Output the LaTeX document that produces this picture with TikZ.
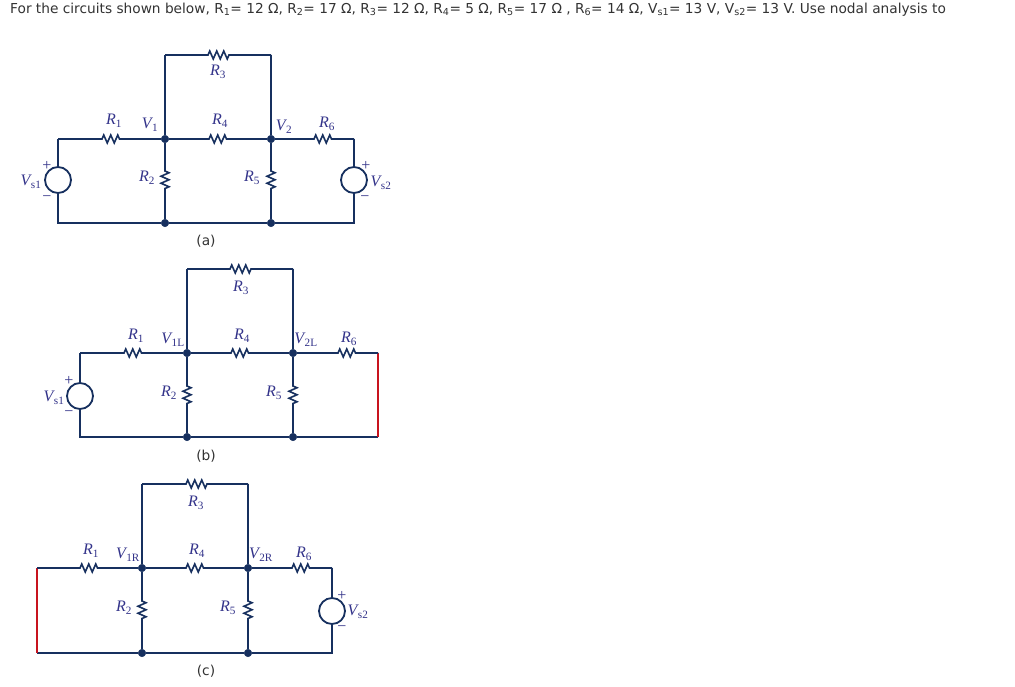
\documentclass[tikz,border=0pt]{standalone}
\usepackage{fontspec}
\setmainfont{Liberation Serif}
\newfontfamily\webfont{DejaVu Sans}
\usetikzlibrary{decorations.pathmorphing}
\definecolor{wirecol}{HTML}{17305F}
\definecolor{labcol}{HTML}{33338A}
\definecolor{webcol}{HTML}{333333}
\definecolor{shortcol}{HTML}{C8141E}
\tikzset{
  wire/.style={draw=wirecol, line width=1.5pt},
  shortwire/.style={draw=shortcol, line width=1.5pt},
  reswire/.style 2 args={decorate, decoration={zigzag, segment length=7pt, amplitude=4pt, pre length=#1, post length=#2}, draw=wirecol, line width=1.6pt},
  junc/.style={circle, fill=wirecol, draw=wirecol, line width=0.5pt, inner sep=0pt, minimum size=7.5pt},
  source/.style={circle, draw=wirecol, line width=1.8pt, inner sep=0pt, minimum size=26pt},
  lab/.style={text=labcol, font=\fontsize{16}{16}\selectfont, inner sep=0pt},
  sgn/.style={text=labcol, font=\fontsize{16}{16}\selectfont, inner sep=0pt},
  capt/.style={text=webcol, font=\webfont\fontsize{13.72}{14}\selectfont, inner sep=0pt}
}
\newcommand{\nm}[2]{\textit{#1}\textsubscript{#2}}
\newcommand{\nv}[1]{\textit{V}\kern-0.06em\textsubscript{#1}}
\newcommand{\wsub}[1]{\textsubscript{#1}}
\begin{document}
\begin{tikzpicture}[x=1pt, y=-1pt]
  \useasboundingbox (0,0) rectangle (1015,686);
  \fill[white] (0,0) rectangle (1015,686);
  \node[capt, anchor=west] (title) at (10,10) {For the circuits shown below, R\wsub{1}= 12 Ω, R\wsub{2}= 17 Ω, R\wsub{3}= 12 Ω, R\wsub{4}= 5 Ω, R\wsub{5}= 17 Ω , R\wsub{6}= 14 Ω, V\wsub{s1}= 13 V, V\wsub{s2}= 13 V. Use nodal analysis to};

  % circuit (a)
  \coordinate (aTL) at (58,139);
  \coordinate (aBL) at (58,223);
  \coordinate (aTR) at (354,139);
  \coordinate (aBR) at (354,223);
  \coordinate (aT1) at (165,55);
  \coordinate (aT2) at (271,55);
  \node[junc] (a1) at (165,139) {};
  \node[junc] (a2) at (271,139) {};
  \node[junc] (a3) at (165,223) {};
  \node[junc] (a4) at (271,223) {};
  \node[source] (aVs1) at (58,180) {};
  \node[source] (aVs2) at (354,180) {};
  \draw[wire] (aVs1) -- (aTL);
  \draw[wire] (aTR) -- (aVs2) -- (aBR) -- (a4) -- (a3) -- (aBL) -- (aVs1);
  \draw[wire] (a1) -- (aT1);
  \draw[wire] (aT2) -- (a2);
  \draw[reswire={44pt}{39pt}] (aTL) -- (a1);
  \draw[reswire={40pt}{39pt}] (a1) -- (a2);
  \draw[reswire={43pt}{42pt}] (aT1) -- (aT2);
  \draw[reswire={39pt}{20pt}] (a2) -- (aTR);
  \draw[reswire={28pt}{29pt}] (a1) -- (a3);
  \draw[reswire={28pt}{29pt}] (a2) -- (a4);
  \node[lab] (aR1) at (114,121) {\nm{R}{1}};
  \node[lab] (aV1) at (150,125) {\nv{1}};
  \node[lab] (aR2) at (147,178) {\nm{R}{2}};
  \node[lab] (aR3) at (218,72) {\nm{R}{3}};
  \node[lab] (aR4) at (220,121) {\nm{R}{4}};
  \node[lab] (aV2) at (284,127) {\nv{2}};
  \node[lab] (aR5) at (252,178) {\nm{R}{5}};
  \node[lab] (aR6) at (327,124) {\nm{R}{6}};
  \node[lab] (aVsa) at (31,182) {\nv{s1}};
  \node[lab] (aVsb) at (381,183) {\nv{s2}};
  \node[sgn] (aPa) at (47,166) {+};
  \node[sgn] (aMa) at (47,199) {−};
  \node[sgn] (aPb) at (366,166) {+};
  \node[sgn] (aMb) at (365,199) {−};
  \node[capt] (aCap) at (206,241) {(a)};

  % circuit (b)
  \coordinate (bTL) at (80,353);
  \coordinate (bBL) at (80,437);
  \coordinate (bTR) at (378,353);
  \coordinate (bBR) at (378,437);
  \coordinate (bT1) at (187,269);
  \coordinate (bT2) at (293,269);
  \node[junc] (b1) at (187,353) {};
  \node[junc] (b2) at (293,353) {};
  \node[junc] (b3) at (187,437) {};
  \node[junc] (b4) at (293,437) {};
  \node[source] (bVs1) at (80,396) {};
  \draw[wire] (bVs1) -- (bTL);
  \draw[wire] (bBR) -- (b4) -- (b3) -- (bBL) -- (bVs1);
  \draw[shortwire] (bTR) -- (bBR);
  \draw[wire] (b1) -- (bT1);
  \draw[wire] (bT2) -- (b2);
  \draw[reswire={44pt}{39pt}] (bTL) -- (b1);
  \draw[reswire={40pt}{39pt}] (b1) -- (b2);
  \draw[reswire={43pt}{42pt}] (bT1) -- (bT2);
  \draw[reswire={41pt}{20pt}] (b2) -- (bTR);
  \draw[reswire={29pt}{28pt}] (b1) -- (b3);
  \draw[reswire={29pt}{28pt}] (b2) -- (b4);
  \node[lab] (bR1) at (136,336) {\nm{R}{1}};
  \node[lab] (bV1) at (173,340) {\nv{1L}};
  \node[lab] (bR2) at (169,393) {\nm{R}{2}};
  \node[lab] (bR3) at (241,288) {\nm{R}{3}};
  \node[lab] (bR4) at (242,336) {\nm{R}{4}};
  \node[lab] (bV2) at (306,340) {\nv{2L}};
  \node[lab] (bR5) at (274,393) {\nm{R}{5}};
  \node[lab] (bR6) at (349,339) {\nm{R}{6}};
  \node[lab] (bVsa) at (54,398) {\nv{s1}};
  \node[sgn] (bPa) at (69,381) {+};
  \node[sgn] (bMa) at (69,414) {−};
  \node[capt] (bCap) at (206,456) {(b)};

  % circuit (c)
  \coordinate (cTL) at (37,568);
  \coordinate (cBL) at (37,653);
  \coordinate (cTR) at (332,568);
  \coordinate (cBR) at (332,653);
  \coordinate (cT1) at (142,484);
  \coordinate (cT2) at (248,484);
  \node[junc] (c1) at (142,568) {};
  \node[junc] (c2) at (248,568) {};
  \node[junc] (c3) at (142,653) {};
  \node[junc] (c4) at (248,653) {};
  \node[source] (cVs2) at (332,611) {};
  \draw[wire] (cTR) -- (cVs2) -- (cBR) -- (c4) -- (c3) -- (cBL);
  \draw[shortwire] (cTL) -- (cBL);
  \draw[wire] (c1) -- (cT1);
  \draw[wire] (cT2) -- (c2);
  \draw[reswire={43pt}{38pt}] (cTL) -- (c1);
  \draw[reswire={40pt}{39pt}] (c1) -- (c2);
  \draw[reswire={44pt}{41pt}] (cT1) -- (cT2);
  \draw[reswire={40pt}{20pt}] (c2) -- (cTR);
  \draw[reswire={29pt}{29pt}] (c1) -- (c3);
  \draw[reswire={29pt}{29pt}] (c2) -- (c4);
  \node[lab] (cR1) at (91,551) {\nm{R}{1}};
  \node[lab] (cV1) at (128,555) {\nv{1R}};
  \node[lab] (cR2) at (124,608) {\nm{R}{2}};
  \node[lab] (cR3) at (196,503) {\nm{R}{3}};
  \node[lab] (cR4) at (197,551) {\nm{R}{4}};
  \node[lab] (cV2) at (261,555) {\nv{2R}};
  \node[lab] (cR5) at (228,608) {\nm{R}{5}};
  \node[lab] (cR6) at (304,554) {\nm{R}{6}};
  \node[lab] (cVsb) at (358,612) {\nv{s2}};
  \node[sgn] (cPb) at (342,596) {+};
  \node[sgn] (cMb) at (342,629) {−};
  \node[capt] (cCap) at (206,671) {(c)};
\end{tikzpicture}
\end{document}
